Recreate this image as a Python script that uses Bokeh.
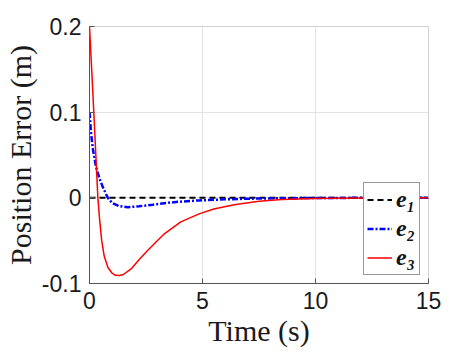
from bokeh.plotting import figure
from bokeh.models import FixedTicker, Range1d, Legend, LegendItem
from bokeh.embed import file_html
from bokeh.resources import INLINE

t1 = [0, 15]
e1 = [0, 0]

t2 = [0, 0.07, 0.15, 0.29, 0.45, 0.59, 0.81, 1.0, 1.3, 1.69, 2.2, 2.8, 3.31, 4.0, 4.85, 6, 7, 8.5, 10, 12, 15]
e2 = [0.1, 0.075, 0.057, 0.036, 0.022, 0.0125, 0.0, -0.006, -0.0095, -0.011, -0.0098, -0.008, -0.0062,
      -0.0045, -0.003, -0.0018, -0.001, -0.0005, -0.0002, 0, 0]

t3 = [0, 0.1, 0.19, 0.28, 0.37, 0.45, 0.54, 0.65, 0.81, 1.0, 1.15, 1.32, 1.5, 1.84, 2.2, 2.57, 3.0, 3.31,
      4.04, 4.85, 5.5, 6.4, 7.5, 8.5, 10, 12, 15]
e3 = [0.2, 0.148, 0.1, 0.05, 0.0, -0.026, -0.05, -0.068, -0.081, -0.088, -0.0905, -0.0907, -0.0895,
      -0.083, -0.072, -0.0615, -0.050, -0.042, -0.028, -0.0187, -0.013, -0.008, -0.004, -0.002,
      -0.0008, -0.0002, 0]

x_ticks = [0, 5, 10, 15]
y_ticks = [-0.1, 0, 0.1, 0.2]
y_tick_labels = {-0.1: "-0.1", 0: "0", 0.1: "0.1", 0.2: "0.2"}

p = figure(width=474, height=355, output_backend="svg", toolbar_location=None,
           x_range=Range1d(0, 15), y_range=Range1d(-0.1, 0.2),
           min_border_left=88, min_border_right=46, min_border_top=26, min_border_bottom=72)

p.outline_line_color = "#d0d0d0"
p.outline_line_width = 1

for ax in (p.xaxis, p.yaxis):
    ax.axis_line_color = "#555555"
    ax.major_tick_line_color = "#555555"
    ax.major_tick_in = 5
    ax.major_tick_out = 0
    ax.minor_tick_line_color = None
    ax.major_label_text_font = "Liberation Sans"
    ax.major_label_text_font_size = "23px"
    ax.major_label_text_color = "#1a1a1a"
    ax.axis_label_text_font = "Liberation Serif"
    ax.axis_label_text_font_size = "30px"
    ax.axis_label_text_font_style = "normal"
    ax.axis_label_text_color = "#1a1a1a"

p.xaxis.ticker = FixedTicker(ticks=x_ticks)
p.yaxis.ticker = FixedTicker(ticks=y_ticks)
p.yaxis.major_label_overrides = y_tick_labels
p.xaxis.axis_label = "Time (s)"
p.yaxis.axis_label = "Position Error (m)"
p.xaxis.major_label_standoff = 8
p.yaxis.major_label_standoff = 8
p.xaxis.axis_label_standoff = 2
p.yaxis.axis_label_standoff = 2

p.xgrid.ticker = FixedTicker(ticks=x_ticks)
p.ygrid.ticker = FixedTicker(ticks=y_ticks)
p.grid.grid_line_color = "#e3e3e3"
p.grid.grid_line_width = 1

r1 = p.line(t1, e1, line_color="black", line_width=2, line_dash="6 4")
r2 = p.line(t2, e2, line_color="#0000ff", line_width=2.5, line_dash="6 2 2 2")
r3 = p.line(t3, e3, line_color="#ff0000", line_width=1.5)

legend = Legend(items=[LegendItem(label="e\u2081", renderers=[r1]),
                       LegendItem(label="e\u2082", renderers=[r2]),
                       LegendItem(label="e\u2083", renderers=[r3])],
                location="bottom_right")
legend.label_text_font = "Liberation Serif"
legend.label_text_font_style = "bold italic"
legend.label_text_font_size = "24px"
legend.label_text_color = "#111111"
legend.border_line_color = "#333333"
legend.border_line_width = 1
legend.glyph_width = 25
legend.glyph_height = 25
legend.label_height = 25
legend.label_width = 20
legend.spacing = 2
legend.padding = 3
legend.margin = 8
legend.label_standoff = 4
legend.background_fill_alpha = 1
p.add_layout(legend)

open("out.html", "w").write(file_html(p, INLINE))
